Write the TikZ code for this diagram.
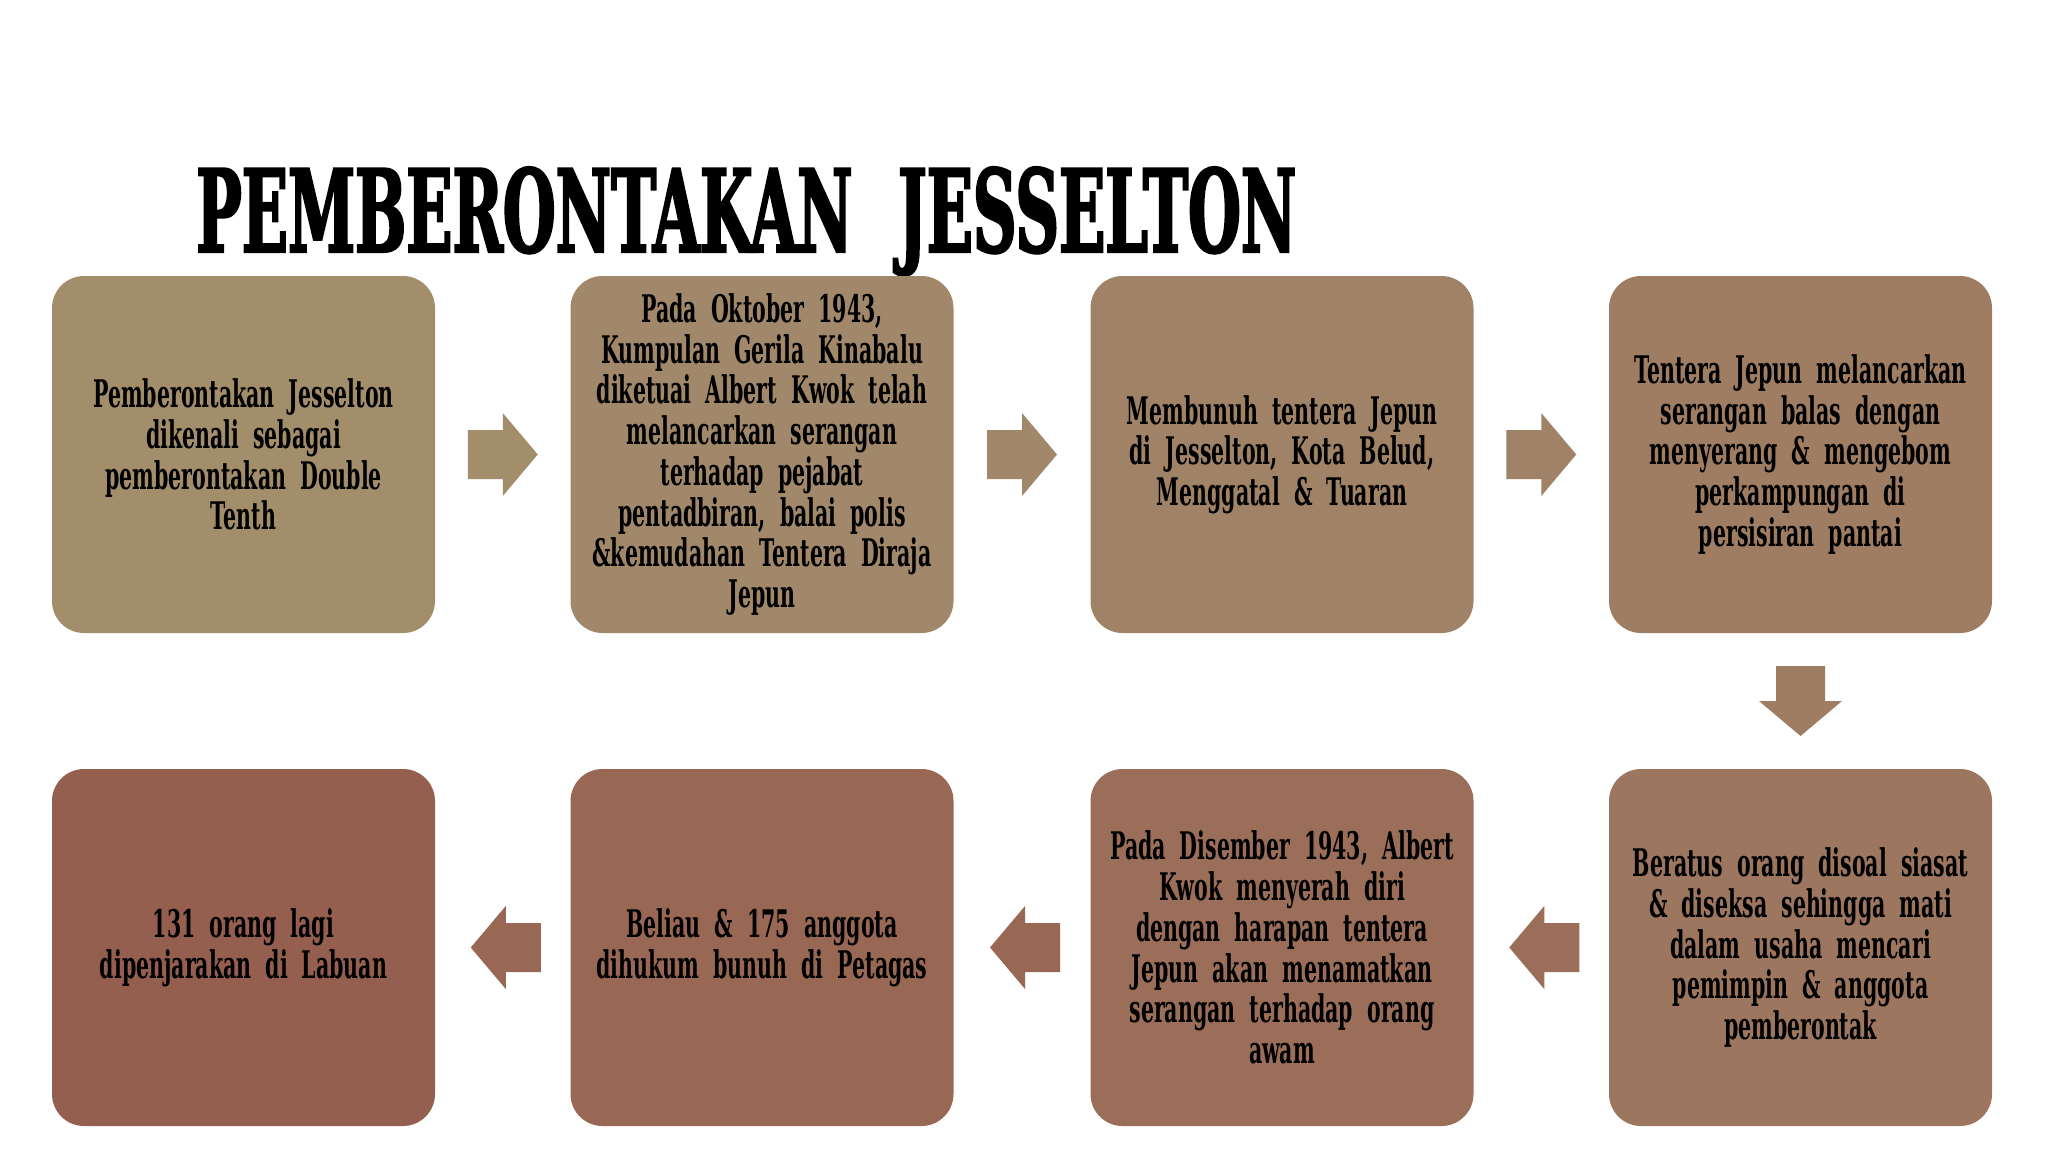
\documentclass[tikz,border=0pt]{standalone}
\usepackage{fontspec}
\usepackage{graphicx}
\usetikzlibrary{calc}
\newfontfamily\bodyfont{DejaVu Serif}[FakeStretch=0.54]
\newfontfamily\titlefont{DejaVu Serif}[FakeStretch=0.6, FakeBold=2]
\newcommand\myboxfont{\bodyfont\bfseries\fontsize{38}{40.7}\selectfont\spaceskip=0.37em plus 0.1em minus 0.05em\relax}
\definecolor{cA}{HTML}{A38E6B}
\definecolor{cB}{HTML}{A2886A}
\definecolor{cC}{HTML}{A08366}
\definecolor{cD}{HTML}{9E7D62}
\definecolor{cE}{HTML}{9C765E}
\definecolor{cF}{HTML}{9A6E58}
\definecolor{cG}{HTML}{986855}
\definecolor{cH}{HTML}{955F4F}
\tikzset{
  box/.style={rectangle, rounded corners=32pt, minimum width=383pt, minimum height=357pt,
    inner sep=0pt, align=center, text=black, font=\myboxfont},
}
\newcommand\blockarrow[3]{%
  \fill[#3, shift={(#1)}, rotate=#2] (-35,-24.5) -- (0,-24.5) -- (0,-41.5) -- (35,0)
    -- (0,41.5) -- (0,24.5) -- (-35,24.5) -- cycle;}
\begin{document}
\begin{tikzpicture}[x=1pt, y=-1pt]
\useasboundingbox (0,0) rectangle (2048,1152);
\fill[white] (0,0) rectangle (2048,1152);
\node[anchor=base west, inner sep=0pt] (title) at (196,252)
  {\resizebox{1100pt}{85pt}{\titlefont\bfseries PEMBERONTAKAN\hspace{0.45em}JESSELTON}};
% row 1
\node[box, fill=cA] (b1) at (243.5,454.5) {Pemberontakan Jesselton\\dikenali sebagai\\pemberontakan Double\\Tenth};
\node[box, fill=cB] (b2) at (762,454.5) {Pada Oktober 1943,\\Kumpulan Gerila Kinabalu\\diketuai Albert Kwok telah\\melancarkan serangan\\terhadap pejabat\\pentadbiran, balai polis\\\&kemudahan Tentera Diraja\\Jepun};
\node[box, fill=cC] (b3) at (1282,454.5) {Membunuh tentera Jepun\\di Jesselton, Kota Belud,\\Menggatal \& Tuaran};
\node[box, fill=cD] (b4) at (1800.5,454.5) {Tentera Jepun melancarkan\\serangan balas dengan\\menyerang \& mengebom\\perkampungan di\\persisiran pantai};
% row 2
\node[box, fill=cE] (b5) at (1800.5,947.5) {Beratus orang disoal siasat\\\& diseksa sehingga mati\\dalam usaha mencari\\pemimpin \& anggota\\pemberontak};
\node[box, fill=cF] (b6) at (1282,947.5) {Pada Disember 1943, Albert\\Kwok menyerah diri\\dengan harapan tentera\\Jepun akan menamatkan\\serangan terhadap orang\\awam};
\node[box, fill=cG] (b7) at (762,947.5) {Beliau \& 175 anggota\\dihukum bunuh di Petagas};
\node[box, fill=cH] (b8) at (243.5,947.5) {131 orang lagi\\dipenjarakan di Labuan};
% arrows
\coordinate (a12) at ($(b1.east)!0.5!(b2.west)$);
\coordinate (a23) at ($(b2.east)!0.5!(b3.west)$);
\coordinate (a34) at ($(b3.east)!0.5!(b4.west)$);
\coordinate (a45) at ($(b4.south)!0.5!(b5.north)$);
\coordinate (a56) at ($(b5.west)!0.5!(b6.east)+(3,0)$);
\coordinate (a67) at ($(b6.west)!0.5!(b7.east)+(3,0)$);
\coordinate (a78) at ($(b7.west)!0.5!(b8.east)+(3,0)$);
\blockarrow{a12}{0}{cA}
\blockarrow{a23}{0}{cB}
\blockarrow{a34}{0}{cC}
\blockarrow{a45}{-90}{cD}
\blockarrow{a56}{180}{cF}
\blockarrow{a67}{180}{cG}
\blockarrow{a78}{180}{cG}
\end{tikzpicture}
\end{document}
